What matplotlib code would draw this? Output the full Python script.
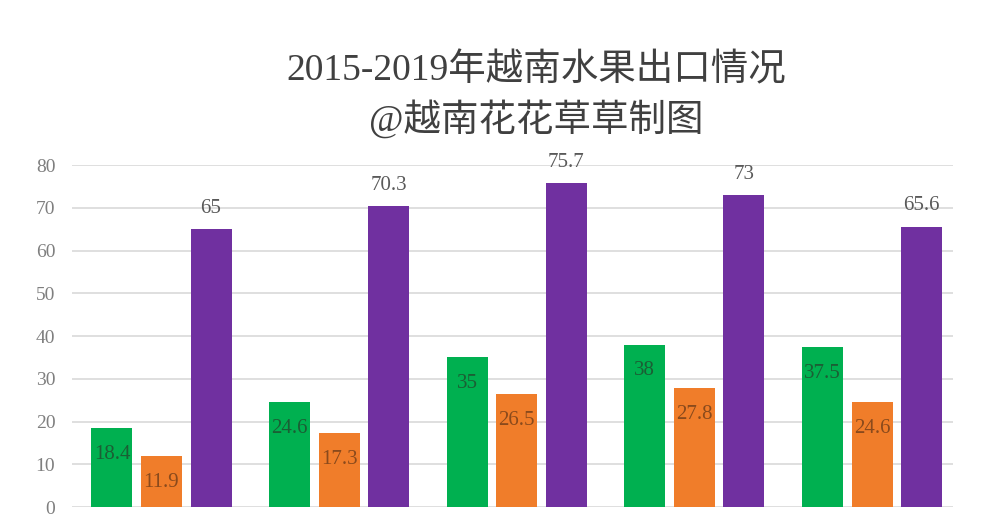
import numpy as np
import matplotlib
matplotlib.use("Agg")
import matplotlib.pyplot as plt

plt.rcParams['font.family'] = ['Liberation Serif', 'Noto Sans CJK SC', 'DejaVu Sans']

# Data
years = ['2015', '2016', '2017', '2018', '2019']
green_vals = [18.4, 24.6, 35, 38, 37.5]
orange_vals = [11.9, 17.3, 26.5, 27.8, 24.6]
purple_vals = [65, 70.3, 75.7, 73, 65.6]
yticks = [0, 10, 20, 30, 40, 50, 60, 70, 80]

fig = plt.figure(figsize=(9.83, 5.16), dpi=100)
ax = fig.add_axes([0.0732, 0.0174, 0.8963, 0.6628])

x = np.arange(len(years))
w = 0.231
step = 0.279

b1 = ax.bar(x - step, green_vals, w, color='#00B050', zorder=3)
b2 = ax.bar(x, orange_vals, w, color='#F07D2A', zorder=3)
b3 = ax.bar(x + step, purple_vals, w, color='#7030A0', zorder=3)

# value labels: inside the top for green/orange, above for purple
for bars, vals, col, off in [(b1, green_vals, '#1B5E34', -19),
                             (b2, orange_vals, '#8A4A1C', -19),
                             (b3, purple_vals, '#595959', 15)]:
    for r, v in zip(bars, vals):
        ax.annotate(f"{v:g}", (r.get_x() + r.get_width() / 2, v),
                    xytext=(0, off), textcoords='offset points',
                    ha='center', va='center', fontsize=15, color=col, zorder=4)

ax.set_xlim(-0.504, 4.456)
ax.set_ylim(0, 80)
ax.set_yticks(yticks)
ax.set_xticks(x)
ax.set_xticklabels([])
ax.tick_params(axis='x', length=0)
ax.tick_params(axis='y', length=0, pad=12, labelsize=14, labelcolor='#7F7F7F')
ax.yaxis.grid(True, color='#D9D9D9', linewidth=1.2, zorder=0)
for s in ax.spines.values():
    s.set_visible(False)

fig.text(0.546, 1 - 71 / 516, '2015-2019年越南水果出口情况', ha='center', va='center',
         fontsize=27, color='#404040', fontweight='light')
fig.text(0.546, 1 - 119 / 516, '@越南花花草草制图', ha='center', va='center',
         fontsize=27, color='#404040', fontweight='light')

fig.savefig('out.png', dpi=100)
